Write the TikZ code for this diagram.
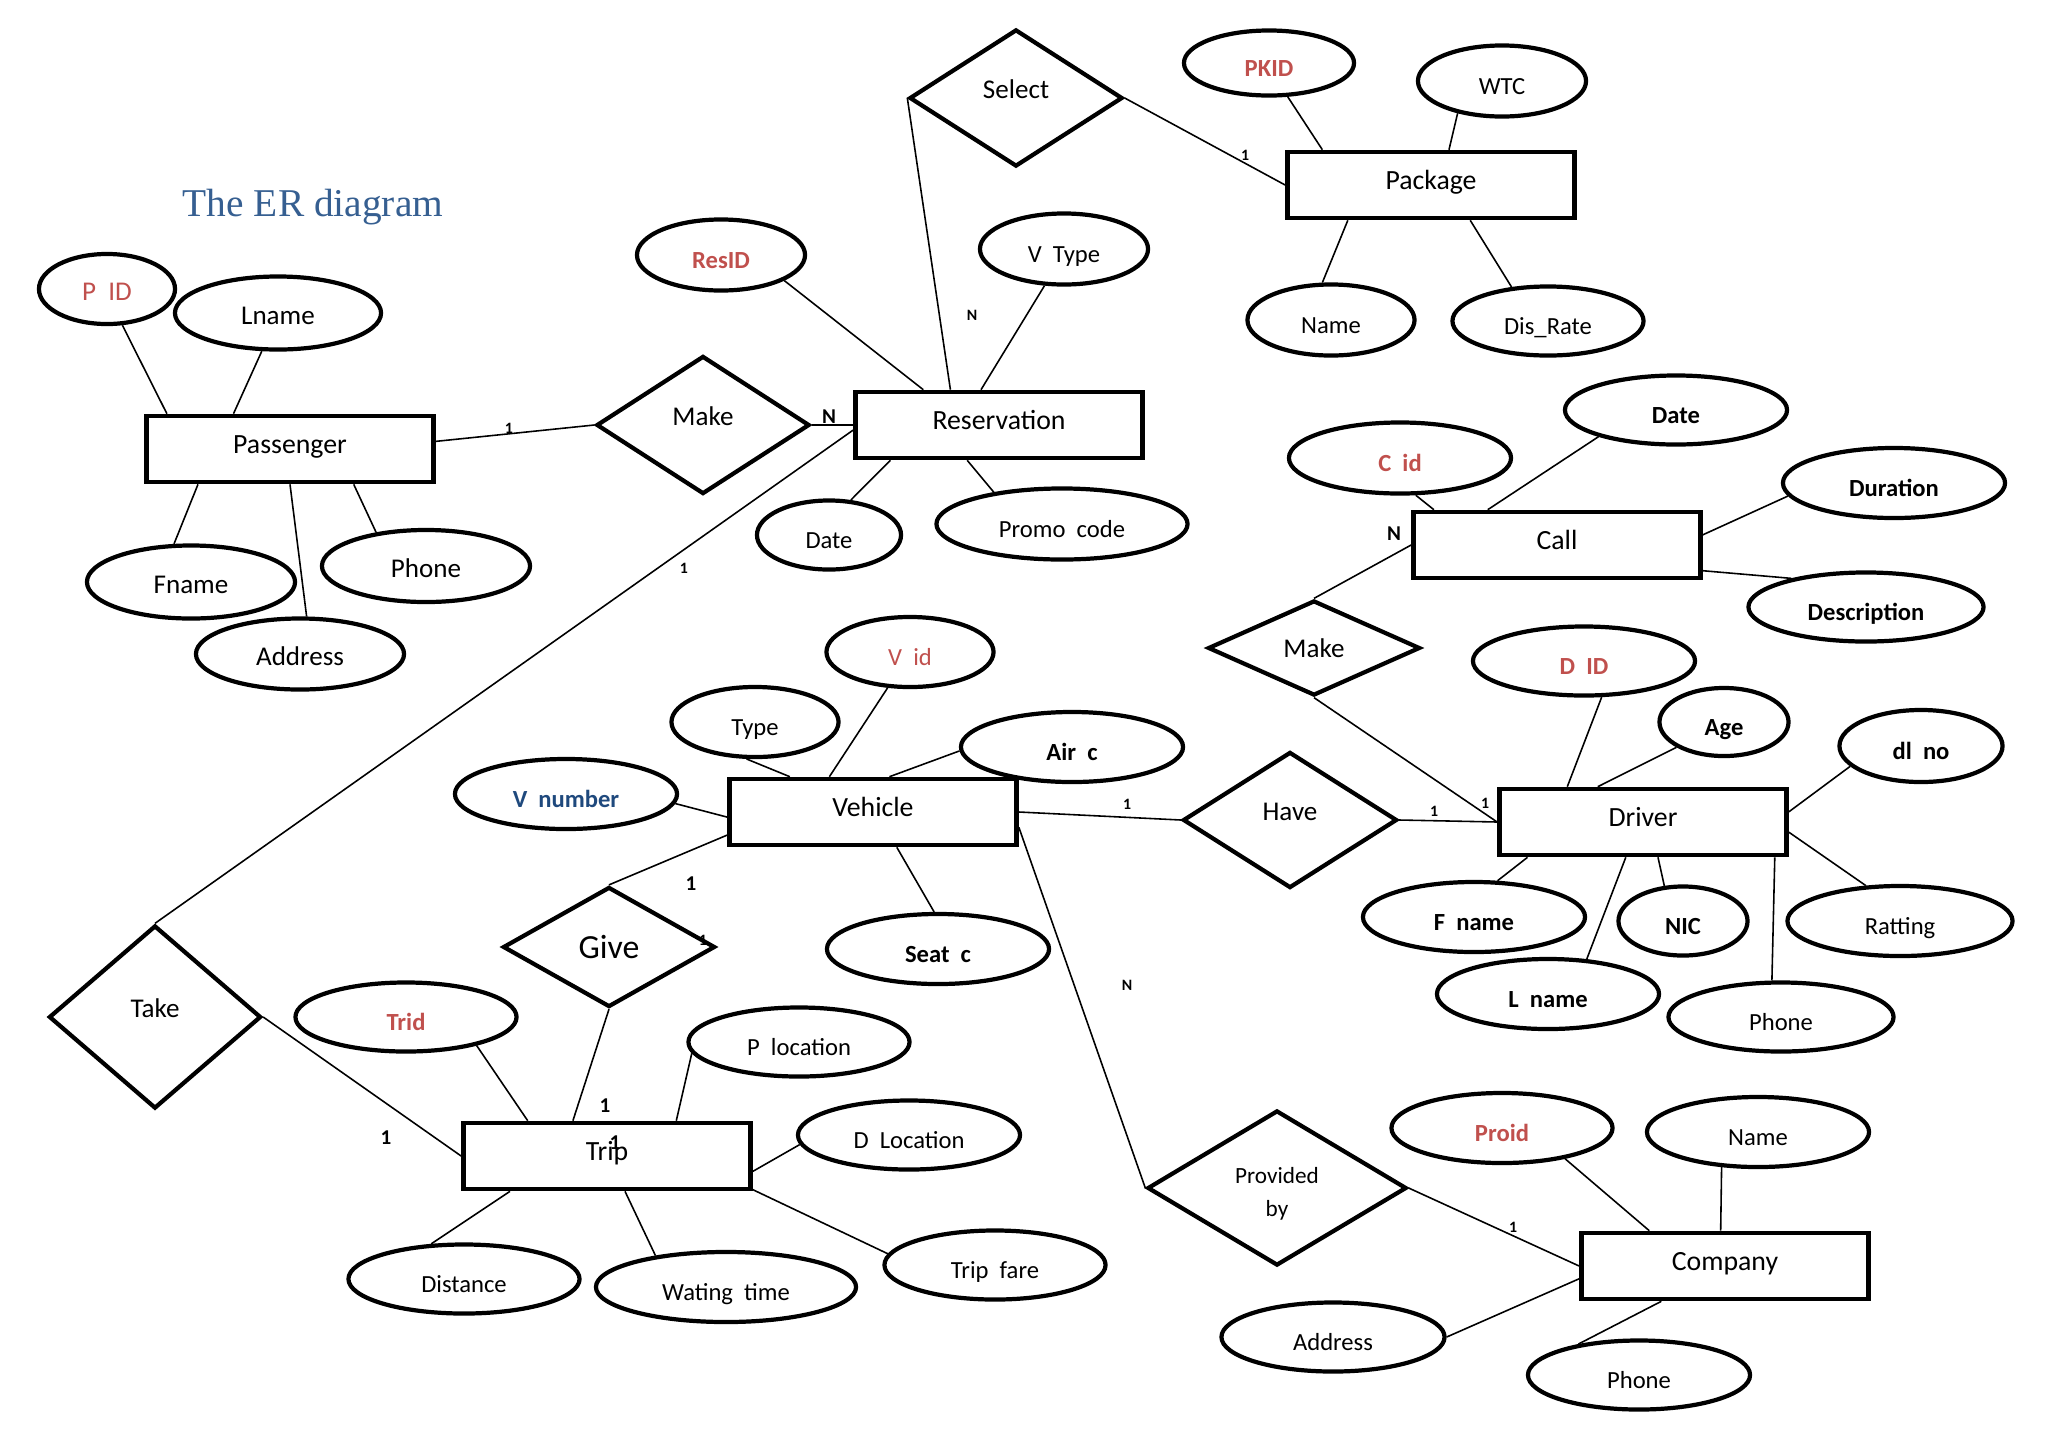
\documentclass[tikz,border=0pt]{standalone}
\usepackage{fontspec}
\setmainfont{Carlito}
\newfontfamily\titlefont{Liberation Serif}
\usetikzlibrary{shapes.geometric}
\definecolor{keyred}{RGB}{192,80,77}
\definecolor{headblue}{RGB}{54,95,145}
\definecolor{numblue}{RGB}{31,73,125}

\begin{document}
\begin{tikzpicture}[x=0.01cm, y=-0.01cm,
    ent/.style={rectangle, draw, line width=1.3pt, minimum width=2.87cm, minimum height=0.66cm, inner sep=0pt,
                text height=1.5ex, text depth=1ex, font=\fontsize{7.9}{9}\selectfont},
    rel/.style={diamond, draw, line width=1.2pt, minimum width=2.13cm, minimum height=1.37cm, inner sep=0pt,
                font=\fontsize{7.7}{9}\selectfont},
    relup/.style={rel, text height=1.2ex, text depth=1.2ex},
    attr/.style={ellipse, draw, line width=1.2pt, minimum width=2.22cm, minimum height=0.70cm, inner sep=0pt,
                 text height=2ex, text depth=0.4ex, font=\fontsize{7}{8}\selectfont},
    keyattr/.style={text=keyred, font=\fontsize{7}{8}\selectfont\bfseries},
    boldattr/.style={font=\fontsize{7}{8}\selectfont\bfseries},
    bigattr/.style={font=\fontsize{7.7}{9}\selectfont, text height=1.8ex, text depth=0.4ex},
    conn/.style={draw, line width=0.45pt},
    card/.style={font=\fontsize{4.5}{5}\selectfont\bfseries},
    bigcard/.style={font=\fontsize{6}{7}\selectfont\bfseries}]

  \useasboundingbox (0,0) rectangle (2048,1448);

  \node[text=headblue, font=\titlefont\fontsize{11.2}{13}\selectfont] (title) at (313,207) {The ER diagram};

  % entities
  \node[ent] (pass) at (290,449) {Passenger};
  \node[ent] (res)  at (999,425) {Reservation};
  \node[ent] (pkg)  at (1431,185) {Package};
  \node[ent] (call) at (1557,545) {Call};
  \node[ent] (veh)  at (873,812) {Vehicle};
  \node[ent] (drv)  at (1643,822) {Driver};
  \node[ent] (trip) at (607,1156) {Trip};
  \node[ent] (comp) at (1725,1266) {Company};

  % relationships
  \node[relup] (sel) at (1016,98) {Select};
  \node[relup, minimum height=1.38cm] (makeres) at (703,425) {Make};
  \node[rel, minimum width=2.12cm, minimum height=0.95cm] (makecall) at (1314,648) {Make};
  \node[relup, minimum width=2.14cm, minimum height=1.36cm] (have) at (1290,820) {Have};
  \node[rel, minimum width=2.12cm, minimum height=1.20cm, font=\fontsize{9.6}{11}\selectfont] (give) at (609,947) {Give};
  \node[relup, minimum width=2.12cm, minimum height=1.83cm] (take) at (155,1017) {Take};
  \node[rel, minimum width=2.59cm, minimum height=1.55cm, align=center, font=\fontsize{6.6}{9.3}\selectfont] (prov) at (1277,1188) {\rule{0pt}{7.8pt}Provided\\by};

  % passenger
  \node[attr, bigattr, text=keyred, minimum width=1.36cm] (pid) at (107,289) {P~~ID};
  \node[attr, bigattr, minimum width=2.06cm, minimum height=0.73cm] (lname) at (278,313) {Lname};
  \node[attr, bigattr, minimum width=2.08cm, minimum height=0.73cm] (fname) at (191,582) {Fname};
  \node[attr, bigattr, minimum width=2.08cm, minimum height=0.72cm] (pphone) at (426,566) {Phone};
  \node[attr, bigattr, minimum width=2.08cm, minimum height=0.71cm] (paddr) at (300,654) {Address};

  % reservation
  \node[attr, keyattr, minimum width=1.68cm, minimum height=0.71cm] (resid) at (721,255) {ResID};
  \node[attr, minimum width=1.68cm, minimum height=0.71cm] (vtype) at (1064,249) {V~~Type};
  \node[attr, minimum width=1.44cm, minimum height=0.69cm] (rdate) at (829,535) {Date};
  \node[attr, minimum width=2.51cm, minimum height=0.71cm] (promo) at (1062,524) {Promo~~code};

  % package
  \node[attr, keyattr, minimum width=1.70cm, minimum height=0.65cm] (pkid) at (1269,63) {PKID};
  \node[attr, minimum width=1.68cm, minimum height=0.71cm] (wtc) at (1502,81) {WTC};
  \node[attr, minimum width=1.67cm, minimum height=0.71cm] (pname) at (1331,320) {Name};
  \node[attr, minimum width=1.91cm, minimum height=0.69cm] (disrate) at (1548,321) {Dis\_Rate};

  % call
  \node[attr, boldattr, minimum height=0.69cm] (cdate) at (1676,410) {Date};
  \node[attr, keyattr, minimum height=0.71cm] (cid) at (1400,458) {C~~id};
  \node[attr, boldattr] (dur) at (1894,483) {Duration};
  \node[attr, boldattr, minimum width=2.35cm, minimum height=0.69cm] (desc) at (1866,607) {Description};

  % vehicle
  \node[attr, text=keyred, minimum width=1.67cm] (vid) at (910,652) {V~~id};
  \node[attr, minimum width=1.67cm] (vkind) at (755,722) {Type};
  \node[attr, boldattr] (airc) at (1072,747) {Air~~c};
  \node[attr, boldattr, text=numblue] (vnum) at (566,794) {V~~number};
  \node[attr, boldattr] (seatc) at (938,949) {Seat~~c};

  % driver
  \node[attr, keyattr, minimum height=0.69cm] (did) at (1584,661) {D~~ID};
  \node[attr, boldattr, minimum width=1.29cm, minimum height=0.68cm] (age) at (1724,722) {Age};
  \node[attr, boldattr, minimum width=1.63cm, minimum height=0.72cm] (dlno) at (1921,746) {dl~~no};
  \node[attr, boldattr] (fnm) at (1474,917) {F~~name};
  \node[attr, boldattr, minimum width=1.29cm, minimum height=0.69cm] (nic) at (1683,921) {NIC};
  \node[attr, minimum width=2.25cm] (rate) at (1900,921) {Ratting};
  \node[attr, boldattr] (lnm) at (1548,994) {L~~name};
  \node[attr, minimum width=2.25cm, minimum height=0.69cm] (dphone) at (1781,1017) {Phone};

  % trip
  \node[attr, keyattr, minimum width=2.21cm, minimum height=0.69cm] (trid) at (406,1017) {Trid};
  \node[attr, minimum width=2.21cm, minimum height=0.69cm] (ploc) at (799,1042) {P~~location};
  \node[attr, minimum height=0.69cm] (dloc) at (909,1135) {D~~Location};
  \node[attr, minimum width=2.31cm, minimum height=0.69cm] (dist) at (464,1279) {Distance};
  \node[attr, minimum width=2.60cm] (wait) at (726,1287) {Wating~~time};
  \node[attr, minimum width=2.21cm, minimum height=0.69cm] (fare) at (995,1265) {Trip~~fare};

  % company
  \node[attr, keyattr, minimum width=2.21cm] (proid) at (1502,1128) {Proid};
  \node[attr] (cname) at (1758,1132) {Name};
  \node[attr, minimum width=2.23cm, minimum height=0.69cm] (caddr) at (1333,1337) {Address};
  \node[attr, minimum height=0.69cm] (cphone) at (1639,1375) {Phone};

  \path[conn]
    (pid.-67) edge (pass.164)
    (lname.247) edge (pass.148)
    (fname.114) edge (pass.201)
    (paddr.80) edge (pass.south)
    (pphone.146) edge (pass.-29)
    (pass.3) edge (makeres.west)
    (makeres.east) edge (res.west)
    (res.182) edge (take.north)
    (resid.-22) edge (res.155)
    (vtype.242) edge (res.117)
    (sel.west) edge (res.144)
    (rdate.58) edge (res.198)
    (promo.155) edge (res.228)

    (sel.east) edge (pkg.west)
    (pkid.-61) edge (pkg.162)
    (wtc.216) edge (pkg.63)
    (pname.103) edge (pkg.203)
    (disrate.137) edge (pkg.-42)

    (cid.-67) edge (call.164)
    (cdate.199) edge (call.153)
    (dur.187) edge (call.4)
    (desc.159) edge (call.-10)
    (makecall.north) edge (call.west)
    (makecall.south) edge (drv.west)

    (veh.east) edge (have.west)
    (have.east) edge (drv.west)
    (did.-64) edge (drv.155)
    (age.208) edge (drv.142)
    (dlno.196) edge (drv.4)
    (rate.134) edge (drv.-4)
    (fnm.57) edge (drv.197)
    (lnm.42) edge (drv.244)
    (nic.118) edge (drv.293)
    (dphone.104) edge (drv.-15)

    (vid.238) edge (veh.141)
    (vkind.257) edge (veh.157)
    (airc.182) edge (veh.65)
    (vnum.-5) edge (veh.182)
    (seatc.96) edge (veh.-56)
    (veh.189) edge (give.north)
    (veh.-6) edge (prov.west)

    (give.south) edge (trip.134)
    (take.east) edge (trip.west)
    (trid.-22) edge (trip.156)
    (ploc.186) edge (trip.27)
    (dloc.185) edge (trip.-6)
    (fare.174) edge (trip.-13)
    (wait.156) edge (trip.297)
    (dist.133) edge (trip.200)

    (prov.east) edge (comp.west)
    (proid.-26) edge (comp.155)
    (cname.224) edge (comp.97)
    (caddr.east) edge (comp.185)
    (cphone.153) edge (comp.209);

  % cardinalities
  \node[card] (c1) at (509,428) {1};
  \node[bigcard] (c2) at (829,417) {N};
  \node[card] (c3) at (684,568) {1};
  \node[card] (c4) at (972,315) {N};
  \node[card] (c5) at (1245,155) {1};
  \node[bigcard] (c6) at (1394,534) {N};
  \node[card] (c7) at (1485,803) {1};
  \node[card] (c8) at (1434,811) {1};
  \node[card] (c9) at (1127,804) {1};
  \node[bigcard] (c10) at (691,884) {1};
  \node[card] (c11) at (703,940) {1};
  \node[bigcard] (c12) at (605,1106) {1};
  \node[bigcard] (c13) at (615,1143) {1};
  \node[bigcard] (c14) at (386,1138) {1};
  \node[card] (c15) at (1127,985) {N};
  \node[card] (c16) at (1513,1227) {1};

\end{tikzpicture}
\end{document}
